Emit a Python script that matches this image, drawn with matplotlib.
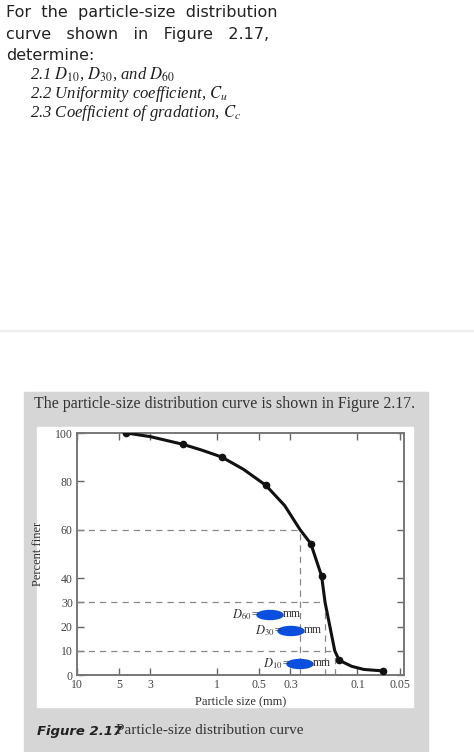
import matplotlib
matplotlib.use("Agg")
import matplotlib.pyplot as plt
from matplotlib.patches import Rectangle, Ellipse
import numpy as np

size_pts = [4.45, 1.75, 0.93, 0.45, 0.215, 0.18, 0.135, 0.066]
finer_pts = [100, 95.3, 90.1, 78.4, 54.3, 40.9, 6.1, 1.7]
size_curve = [4.45, 3.0, 1.75, 1.3, 0.93, 0.65, 0.45, 0.33, 0.256, 0.215, 0.18, 0.17, 0.145, 0.135, 0.11, 0.09, 0.066]
finer_curve = [100, 98.5, 95.3, 93.0, 90.1, 85.0, 78.4, 70.0, 60.0, 54.3, 40.9, 30.0, 10.0, 6.1, 3.6, 2.3, 1.7]
d_sizes = [0.256, 0.17, 0.145]
d_levels = [60, 30, 10]
xticks = [10, 5, 3, 1, 0.5, 0.3, 0.1, 0.05]
xticklabels = ["10", "5", "3", "1", "0.5", "0.3", "0.1", "0.05"]
yticks = [0, 10, 20, 30, 40, 60, 80, 100]

W, H = 474, 752
fig = plt.figure(figsize=(W/100, H/100), dpi=100)
fig.patch.set_facecolor("white")
plt.rcParams["mathtext.fontset"] = "stix"

def fx(px): return px / W
def fy(py): return 1 - py / H

sans = ["DejaVu Sans"]
serif = ["Liberation Serif", "DejaVu Serif"]

lines = ["For  the  particle-size  distribution", "curve   shown   in   Figure   2.17,", "determine:"]
for i, t in enumerate(lines):
    fig.text(fx(6), fy(13 + 21.5*i), t, fontsize=11.5, family=sans, color="#222", va="center")
items = [r"2.1 $D_{10}$, $D_{30}$, and $D_{60}$", r"2.2 Uniformity coefficient, $C_u$", r"2.3 Coefficient of gradation, $C_c$"]
for i, t in enumerate(items):
    fig.text(fx(30), fy(74 + 19.5*i), t, fontsize=12, family=serif, style="italic", color="#222", va="center")

fig.add_artist(Rectangle((0, fy(331)), 1, 1.5/H, transform=fig.transFigure, color="#eeeeee", zorder=-10))
fig.add_artist(Rectangle((fx(24), 0), fx(404), (752-392)/H, transform=fig.transFigure, color="#d6d6d6", zorder=-10))
fig.add_artist(Rectangle((fx(37), fy(707)), fx(376), (707-427)/H, transform=fig.transFigure, color="white", zorder=-9))
fig.text(fx(34), fy(404), "The particle-size distribution curve is shown in Figure 2.17.",
         fontsize=11.4, family=serif, color="#333", va="center")
fig.text(fx(37), fy(731), "Figure 2.17", fontsize=9.5, family=sans, weight="bold", style="italic", color="#222", va="center")
fig.text(fx(116), fy(731), "Particle-size distribution curve", fontsize=11, family=serif, color="#333", va="center")

ax = fig.add_axes([fx(77), fy(675), (404-77)/W, (675-433)/H])
ax.set_xscale("log")
ax.set_xlim(10, 0.0465)
ax.set_ylim(0, 100)
ax.plot(size_curve, finer_curve, color="#111", lw=2.2, zorder=3)
ax.plot(size_pts, finer_pts, "o", color="#111", ms=4.5, zorder=4)
for d, lv in zip(d_sizes, d_levels):
    ax.plot([10, d], [lv, lv], ls=(0, (5, 4)), color="#888", lw=0.9)
    ax.plot([d, d], [0, lv], ls=(0, (5, 4)), color="#888", lw=0.9)
ax.set_xticks(xticks)
ax.set_xticklabels(xticklabels, family=serif, fontsize=8.5, color="#444")
ax.xaxis.set_minor_locator(matplotlib.ticker.NullLocator())
ax.set_yticks(yticks)
ax.set_yticklabels([str(v) for v in yticks], family=serif, fontsize=8.5, color="#444")
ax.tick_params(direction="in", top=True, right=True, length=5, width=1, color="#666", pad=3)
for s in ax.spines.values():
    s.set_color("#777"); s.set_linewidth(1.4)
ax.set_xlabel("Particle size (mm)", family=serif, fontsize=9, color="#333", labelpad=3)
ax.set_ylabel("Percent finer", family=serif, fontsize=9, color="#333", labelpad=8)

ann = [(r"$D_{60}$=", 232, 615, 270, "mm"), (r"$D_{30}$=", 255, 631, 291, "mm"), (r"$D_{10}$=", 263, 664, 300, "mm")]
for lab, x0, y0, bx, unit in ann:
    fig.text(fx(x0), fy(y0), lab, fontsize=9, family=serif, style="italic", color="#333", va="center", zorder=11)
    fig.add_artist(Ellipse((fx(bx), fy(y0)), 26/W, 9/H, transform=fig.transFigure, color="#0a4fe0", zorder=10))
    fig.text(fx(bx + 13), fy(y0 - 1), unit, fontsize=8.5, family=serif, color="#333", va="center", zorder=11)

fig.savefig("out.png", dpi=100)
